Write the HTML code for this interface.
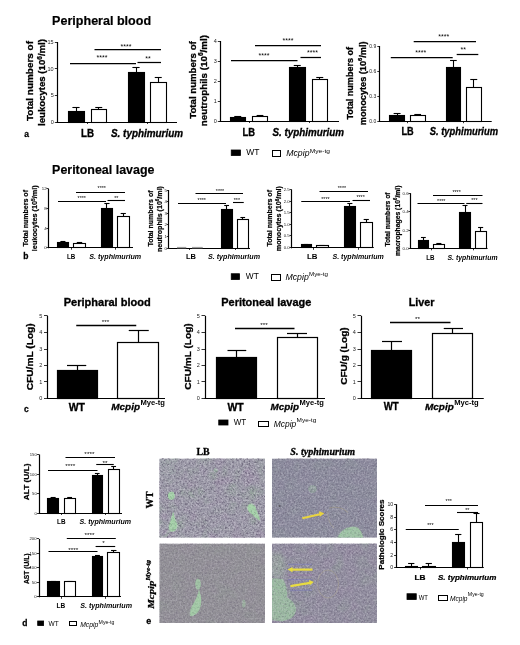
<!DOCTYPE html>
<html><head><meta charset="utf-8"><title>Figure</title>
<style>html,body{margin:0;padding:0;background:#fff;overflow:hidden;}svg{display:block;}</style>
</head><body>
<svg width="520" height="645" viewBox="0 0 520 645">
<rect width="520" height="645" fill="#fff"/>
<text x="52.10" y="25.20" font-size="13.2" font-weight="bold" font-style="normal" text-anchor="start" font-family="'Liberation Sans', Arial, sans-serif" fill="#000" textLength="99.00" lengthAdjust="spacingAndGlyphs" stroke="#000" stroke-width="0.20">Peripheral blood</text>
<text x="24.20" y="137.20" font-size="8.5" font-weight="bold" font-style="normal" text-anchor="start" font-family="'Liberation Sans', Arial, sans-serif" fill="#000" stroke="#000" stroke-width="0.26">a</text>
<line x1="57.50" y1="42.00" x2="57.50" y2="122.50" stroke="#000" stroke-width="1.2"/>
<line x1="56.50" y1="122.50" x2="177.00" y2="122.50" stroke="#000" stroke-width="1.2"/>
<line x1="54.80" y1="42.50" x2="57.00" y2="42.50" stroke="#000" stroke-width="0.8"/>
<text x="53.70" y="43.98" font-size="5.5" font-weight="normal" font-style="normal" text-anchor="end" font-family="'Liberation Sans', Arial, sans-serif" fill="#222">15</text>
<line x1="54.80" y1="68.50" x2="57.00" y2="68.50" stroke="#000" stroke-width="0.8"/>
<text x="53.70" y="70.73" font-size="5.5" font-weight="normal" font-style="normal" text-anchor="end" font-family="'Liberation Sans', Arial, sans-serif" fill="#222">10</text>
<line x1="54.80" y1="95.50" x2="57.00" y2="95.50" stroke="#000" stroke-width="0.8"/>
<text x="53.70" y="97.48" font-size="5.5" font-weight="normal" font-style="normal" text-anchor="end" font-family="'Liberation Sans', Arial, sans-serif" fill="#222">5</text>
<line x1="54.80" y1="122.50" x2="57.00" y2="122.50" stroke="#000" stroke-width="0.8"/>
<text x="53.70" y="123.98" font-size="5.5" font-weight="normal" font-style="normal" text-anchor="end" font-family="'Liberation Sans', Arial, sans-serif" fill="#222">0</text>
<line x1="87.50" y1="122.00" x2="87.50" y2="124.00" stroke="#000" stroke-width="0.8"/>
<line x1="147.50" y1="122.00" x2="147.50" y2="124.00" stroke="#000" stroke-width="0.8"/>
<line x1="76.50" y1="107.00" x2="76.50" y2="111.50" stroke="#000" stroke-width="1.1"/>
<line x1="72.40" y1="107.50" x2="79.60" y2="107.50" stroke="#000" stroke-width="1.1"/>
<rect x="68.50" y="111.50" width="16.00" height="11.00" fill="#000" stroke="#000" stroke-width="1.1"/>
<line x1="98.50" y1="107.50" x2="98.50" y2="109.50" stroke="#000" stroke-width="1.1"/>
<line x1="95.26" y1="107.50" x2="102.24" y2="107.50" stroke="#000" stroke-width="1.1"/>
<rect x="91.50" y="109.50" width="15.00" height="13.00" fill="#fff" stroke="#000" stroke-width="1.1"/>
<line x1="136.50" y1="67.50" x2="136.50" y2="72.00" stroke="#000" stroke-width="1.1"/>
<line x1="132.40" y1="67.50" x2="139.60" y2="67.50" stroke="#000" stroke-width="1.1"/>
<rect x="128.50" y="72.50" width="16.00" height="50.00" fill="#000" stroke="#000" stroke-width="1.1"/>
<line x1="158.50" y1="77.50" x2="158.50" y2="82.00" stroke="#000" stroke-width="1.1"/>
<line x1="154.76" y1="77.50" x2="161.74" y2="77.50" stroke="#000" stroke-width="1.1"/>
<rect x="150.50" y="82.50" width="16.00" height="40.00" fill="#fff" stroke="#000" stroke-width="1.1"/>
<line x1="70.00" y1="63.50" x2="136.00" y2="63.50" stroke="#000" stroke-width="1.25"/>
<text x="102.00" y="59.58" font-size="6.5" font-weight="normal" font-style="normal" text-anchor="middle" font-family="'Liberation Sans', Arial, sans-serif" fill="#000" textLength="10.92" lengthAdjust="spacingAndGlyphs">****</text>
<line x1="94.50" y1="49.50" x2="161.00" y2="49.50" stroke="#000" stroke-width="1.25"/>
<text x="126.00" y="48.58" font-size="6.5" font-weight="normal" font-style="normal" text-anchor="middle" font-family="'Liberation Sans', Arial, sans-serif" fill="#000" textLength="10.92" lengthAdjust="spacingAndGlyphs">****</text>
<line x1="137.50" y1="62.50" x2="161.00" y2="62.50" stroke="#000" stroke-width="1.25"/>
<text x="148.00" y="60.58" font-size="6.5" font-weight="normal" font-style="normal" text-anchor="middle" font-family="'Liberation Sans', Arial, sans-serif" fill="#000" textLength="5.46" lengthAdjust="spacingAndGlyphs">**</text>
<text x="81.00" y="137.00" font-size="10" font-weight="bold" font-style="normal" text-anchor="start" font-family="'Liberation Sans', Arial, sans-serif" fill="#000" textLength="13.00" lengthAdjust="spacingAndGlyphs" stroke="#000" stroke-width="0.30">LB</text>
<text x="111.00" y="137.00" font-size="10" font-weight="bold" font-style="italic" text-anchor="start" font-family="'Liberation Sans', Arial, sans-serif" fill="#000" textLength="72.00" lengthAdjust="spacingAndGlyphs" stroke="#000" stroke-width="0.30">S. typhimurium</text>
<text stroke="#000" stroke-width="0.29" transform="translate(32.60,121.00) rotate(-90)" x="0" y="0" font-size="9.6" font-weight="bold" font-style="normal" font-family="'Liberation Sans', Arial, sans-serif" fill="#000" textLength="80.00" lengthAdjust="spacingAndGlyphs">Total numbers of</text>
<text stroke="#000" stroke-width="0.29" transform="translate(45.00,126.00) rotate(-90)" x="0" y="0" font-size="9.6" font-weight="bold" font-style="normal" font-family="'Liberation Sans', Arial, sans-serif" fill="#000" textLength="87.00" lengthAdjust="spacingAndGlyphs">leukocytes (10<tspan font-size="6.5" dy="-3.5">6</tspan><tspan dy="3.5">/ml)</tspan></text>
<line x1="220.50" y1="41.00" x2="220.50" y2="121.50" stroke="#000" stroke-width="1.2"/>
<line x1="219.50" y1="121.50" x2="339.00" y2="121.50" stroke="#000" stroke-width="1.2"/>
<line x1="217.80" y1="41.50" x2="220.00" y2="41.50" stroke="#000" stroke-width="0.8"/>
<text x="216.70" y="42.98" font-size="5.5" font-weight="normal" font-style="normal" text-anchor="end" font-family="'Liberation Sans', Arial, sans-serif" fill="#222">4</text>
<line x1="217.80" y1="61.50" x2="220.00" y2="61.50" stroke="#000" stroke-width="0.8"/>
<text x="216.70" y="62.98" font-size="5.5" font-weight="normal" font-style="normal" text-anchor="end" font-family="'Liberation Sans', Arial, sans-serif" fill="#222">3</text>
<line x1="217.80" y1="81.50" x2="220.00" y2="81.50" stroke="#000" stroke-width="0.8"/>
<text x="216.70" y="82.98" font-size="5.5" font-weight="normal" font-style="normal" text-anchor="end" font-family="'Liberation Sans', Arial, sans-serif" fill="#222">2</text>
<line x1="217.80" y1="101.50" x2="220.00" y2="101.50" stroke="#000" stroke-width="0.8"/>
<text x="216.70" y="102.98" font-size="5.5" font-weight="normal" font-style="normal" text-anchor="end" font-family="'Liberation Sans', Arial, sans-serif" fill="#222">1</text>
<line x1="217.80" y1="121.50" x2="220.00" y2="121.50" stroke="#000" stroke-width="0.8"/>
<text x="216.70" y="122.98" font-size="5.5" font-weight="normal" font-style="normal" text-anchor="end" font-family="'Liberation Sans', Arial, sans-serif" fill="#222">0</text>
<line x1="249.50" y1="121.00" x2="249.50" y2="123.00" stroke="#000" stroke-width="0.8"/>
<line x1="309.50" y1="121.00" x2="309.50" y2="123.00" stroke="#000" stroke-width="0.8"/>
<line x1="237.50" y1="116.00" x2="237.50" y2="117.00" stroke="#000" stroke-width="1.1"/>
<line x1="234.26" y1="116.50" x2="241.24" y2="116.50" stroke="#000" stroke-width="1.1"/>
<rect x="230.50" y="117.50" width="15.00" height="4.00" fill="#000" stroke="#000" stroke-width="1.1"/>
<line x1="260.50" y1="115.00" x2="260.50" y2="116.00" stroke="#000" stroke-width="1.1"/>
<line x1="256.62" y1="115.50" x2="263.38" y2="115.50" stroke="#000" stroke-width="1.1"/>
<rect x="252.50" y="116.50" width="15.00" height="5.00" fill="#fff" stroke="#000" stroke-width="1.1"/>
<line x1="297.50" y1="65.00" x2="297.50" y2="67.50" stroke="#000" stroke-width="1.1"/>
<line x1="293.76" y1="65.50" x2="300.74" y2="65.50" stroke="#000" stroke-width="1.1"/>
<rect x="289.50" y="67.50" width="16.00" height="54.00" fill="#000" stroke="#000" stroke-width="1.1"/>
<line x1="319.50" y1="77.00" x2="319.50" y2="79.00" stroke="#000" stroke-width="1.1"/>
<line x1="316.26" y1="77.50" x2="323.24" y2="77.50" stroke="#000" stroke-width="1.1"/>
<rect x="312.50" y="79.50" width="15.00" height="42.00" fill="#fff" stroke="#000" stroke-width="1.1"/>
<line x1="231.00" y1="60.50" x2="297.50" y2="60.50" stroke="#000" stroke-width="1.25"/>
<text x="264.00" y="57.58" font-size="6.5" font-weight="normal" font-style="normal" text-anchor="middle" font-family="'Liberation Sans', Arial, sans-serif" fill="#000" textLength="10.92" lengthAdjust="spacingAndGlyphs">****</text>
<line x1="255.00" y1="45.50" x2="321.00" y2="45.50" stroke="#000" stroke-width="1.25"/>
<text x="288.00" y="42.58" font-size="6.5" font-weight="normal" font-style="normal" text-anchor="middle" font-family="'Liberation Sans', Arial, sans-serif" fill="#000" textLength="10.92" lengthAdjust="spacingAndGlyphs">****</text>
<line x1="300.50" y1="57.50" x2="321.00" y2="57.50" stroke="#000" stroke-width="1.25"/>
<text x="312.50" y="54.58" font-size="6.5" font-weight="normal" font-style="normal" text-anchor="middle" font-family="'Liberation Sans', Arial, sans-serif" fill="#000" textLength="10.92" lengthAdjust="spacingAndGlyphs">****</text>
<text x="242.50" y="135.50" font-size="10" font-weight="bold" font-style="normal" text-anchor="start" font-family="'Liberation Sans', Arial, sans-serif" fill="#000" textLength="12.50" lengthAdjust="spacingAndGlyphs" stroke="#000" stroke-width="0.30">LB</text>
<text x="272.50" y="136.00" font-size="10" font-weight="bold" font-style="italic" text-anchor="start" font-family="'Liberation Sans', Arial, sans-serif" fill="#000" textLength="71.50" lengthAdjust="spacingAndGlyphs" stroke="#000" stroke-width="0.30">S. typhimurium</text>
<text stroke="#000" stroke-width="0.29" transform="translate(196.40,118.75) rotate(-90)" x="0" y="0" font-size="9.6" font-weight="bold" font-style="normal" font-family="'Liberation Sans', Arial, sans-serif" fill="#000" textLength="77.50" lengthAdjust="spacingAndGlyphs">Total numbers of</text>
<text stroke="#000" stroke-width="0.29" transform="translate(206.50,126.25) rotate(-90)" x="0" y="0" font-size="9.6" font-weight="bold" font-style="normal" font-family="'Liberation Sans', Arial, sans-serif" fill="#000" textLength="91.25" lengthAdjust="spacingAndGlyphs">neutrophils (10<tspan font-size="6.5" dy="-3.5">6</tspan><tspan dy="3.5">/ml)</tspan></text>
<line x1="379.50" y1="46.00" x2="379.50" y2="121.70" stroke="#000" stroke-width="1.2"/>
<line x1="379.00" y1="121.50" x2="491.70" y2="121.50" stroke="#000" stroke-width="1.2"/>
<line x1="377.30" y1="46.50" x2="379.50" y2="46.50" stroke="#000" stroke-width="0.8"/>
<text x="376.20" y="47.80" font-size="5" font-weight="normal" font-style="normal" text-anchor="end" font-family="'Liberation Sans', Arial, sans-serif" fill="#222">0.9</text>
<line x1="377.30" y1="71.50" x2="379.50" y2="71.50" stroke="#000" stroke-width="0.8"/>
<text x="376.20" y="73.00" font-size="5" font-weight="normal" font-style="normal" text-anchor="end" font-family="'Liberation Sans', Arial, sans-serif" fill="#222">0.6</text>
<line x1="377.30" y1="96.50" x2="379.50" y2="96.50" stroke="#000" stroke-width="0.8"/>
<text x="376.20" y="98.10" font-size="5" font-weight="normal" font-style="normal" text-anchor="end" font-family="'Liberation Sans', Arial, sans-serif" fill="#222">0.3</text>
<line x1="377.30" y1="121.50" x2="379.50" y2="121.50" stroke="#000" stroke-width="0.8"/>
<text x="376.20" y="123.20" font-size="5" font-weight="normal" font-style="normal" text-anchor="end" font-family="'Liberation Sans', Arial, sans-serif" fill="#222">0.0</text>
<line x1="407.50" y1="121.20" x2="407.50" y2="123.20" stroke="#000" stroke-width="0.8"/>
<line x1="463.50" y1="121.20" x2="463.50" y2="123.20" stroke="#000" stroke-width="0.8"/>
<line x1="397.50" y1="113.40" x2="397.50" y2="115.60" stroke="#000" stroke-width="1.1"/>
<line x1="393.63" y1="113.50" x2="400.57" y2="113.50" stroke="#000" stroke-width="1.1"/>
<rect x="389.50" y="115.50" width="15.00" height="6.00" fill="#000" stroke="#000" stroke-width="1.1"/>
<line x1="417.50" y1="114.00" x2="417.50" y2="115.00" stroke="#000" stroke-width="1.1"/>
<line x1="414.32" y1="114.50" x2="421.07" y2="114.50" stroke="#000" stroke-width="1.1"/>
<rect x="410.50" y="115.50" width="15.00" height="6.00" fill="#fff" stroke="#000" stroke-width="1.1"/>
<line x1="453.50" y1="60.40" x2="453.50" y2="67.40" stroke="#000" stroke-width="1.1"/>
<line x1="450.07" y1="60.50" x2="456.73" y2="60.50" stroke="#000" stroke-width="1.1"/>
<rect x="446.50" y="67.50" width="14.00" height="54.00" fill="#000" stroke="#000" stroke-width="1.1"/>
<line x1="473.50" y1="79.20" x2="473.50" y2="87.30" stroke="#000" stroke-width="1.1"/>
<line x1="470.26" y1="79.50" x2="477.24" y2="79.50" stroke="#000" stroke-width="1.1"/>
<rect x="466.50" y="87.50" width="15.00" height="34.00" fill="#fff" stroke="#000" stroke-width="1.1"/>
<line x1="390.80" y1="57.50" x2="452.70" y2="57.50" stroke="#000" stroke-width="1.25"/>
<text x="420.80" y="54.58" font-size="6.5" font-weight="normal" font-style="normal" text-anchor="middle" font-family="'Liberation Sans', Arial, sans-serif" fill="#000" textLength="10.92" lengthAdjust="spacingAndGlyphs">****</text>
<line x1="413.70" y1="41.50" x2="476.00" y2="41.50" stroke="#000" stroke-width="1.25"/>
<text x="443.70" y="39.18" font-size="6.5" font-weight="normal" font-style="normal" text-anchor="middle" font-family="'Liberation Sans', Arial, sans-serif" fill="#000" textLength="10.92" lengthAdjust="spacingAndGlyphs">****</text>
<line x1="456.70" y1="54.50" x2="478.30" y2="54.50" stroke="#000" stroke-width="1.25"/>
<text x="463.20" y="51.88" font-size="6.5" font-weight="normal" font-style="normal" text-anchor="middle" font-family="'Liberation Sans', Arial, sans-serif" fill="#000" textLength="5.46" lengthAdjust="spacingAndGlyphs">**</text>
<text x="401.50" y="135.20" font-size="10" font-weight="bold" font-style="normal" text-anchor="start" font-family="'Liberation Sans', Arial, sans-serif" fill="#000" textLength="12.20" lengthAdjust="spacingAndGlyphs" stroke="#000" stroke-width="0.30">LB</text>
<text x="429.80" y="135.00" font-size="10" font-weight="bold" font-style="italic" text-anchor="start" font-family="'Liberation Sans', Arial, sans-serif" fill="#000" textLength="68.20" lengthAdjust="spacingAndGlyphs" stroke="#000" stroke-width="0.30">S. typhimurium</text>
<text stroke="#000" stroke-width="0.29" transform="translate(353.20,119.60) rotate(-90)" x="0" y="0" font-size="9.6" font-weight="bold" font-style="normal" font-family="'Liberation Sans', Arial, sans-serif" fill="#000" textLength="72.60" lengthAdjust="spacingAndGlyphs">Total numbers of</text>
<text stroke="#000" stroke-width="0.29" transform="translate(365.50,125.20) rotate(-90)" x="0" y="0" font-size="9.6" font-weight="bold" font-style="normal" font-family="'Liberation Sans', Arial, sans-serif" fill="#000" textLength="83.80" lengthAdjust="spacingAndGlyphs">monocytes (10<tspan font-size="6" dy="-3.5">6</tspan><tspan dy="3.5">/ml)</tspan></text>
<rect x="231.25" y="150.00" width="9.25" height="5.50" fill="#000" stroke="#000" stroke-width="0.8"/>
<text x="246.25" y="155.00" font-size="9" font-weight="normal" font-style="normal" text-anchor="start" font-family="'Liberation Sans', Arial, sans-serif" fill="#000" textLength="13.25" lengthAdjust="spacingAndGlyphs">WT</text>
<rect x="272.50" y="150.50" width="8.00" height="6.00" fill="#fff" stroke="#000" stroke-width="1"/>
<text x="286.25" y="156.25" font-size="9" font-weight="normal" font-style="italic" text-anchor="start" font-family="'Liberation Sans', Arial, sans-serif" fill="#000" textLength="23.25" lengthAdjust="spacingAndGlyphs">Mcpip</text>
<text x="309.80" y="152.50" font-size="6" font-weight="normal" font-style="normal" text-anchor="start" font-family="'Liberation Sans', Arial, sans-serif" fill="#000" textLength="20.20" lengthAdjust="spacingAndGlyphs">Mye-tg</text>
<text x="52.10" y="174.40" font-size="12.5" font-weight="bold" font-style="normal" text-anchor="start" font-family="'Liberation Sans', Arial, sans-serif" fill="#000" textLength="102.30" lengthAdjust="spacingAndGlyphs" stroke="#000" stroke-width="0.19">Peritoneal lavage</text>
<text x="23.20" y="259.00" font-size="8.5" font-weight="bold" font-style="normal" text-anchor="start" font-family="'Liberation Sans', Arial, sans-serif" fill="#000" stroke="#000" stroke-width="0.26">b</text>
<line x1="48.50" y1="188.75" x2="48.50" y2="248.20" stroke="#000" stroke-width="1.2"/>
<line x1="48.10" y1="247.50" x2="133.00" y2="247.50" stroke="#000" stroke-width="1.2"/>
<line x1="46.40" y1="188.50" x2="48.60" y2="188.50" stroke="#000" stroke-width="0.8"/>
<text x="46.60" y="190.30" font-size="4.3" font-weight="normal" font-style="normal" text-anchor="end" font-family="'Liberation Sans', Arial, sans-serif" fill="#222">12</text>
<line x1="46.40" y1="208.50" x2="48.60" y2="208.50" stroke="#000" stroke-width="0.8"/>
<text x="46.60" y="210.30" font-size="4.3" font-weight="normal" font-style="normal" text-anchor="end" font-family="'Liberation Sans', Arial, sans-serif" fill="#222">8</text>
<line x1="46.40" y1="228.50" x2="48.60" y2="228.50" stroke="#000" stroke-width="0.8"/>
<text x="46.60" y="230.05" font-size="4.3" font-weight="normal" font-style="normal" text-anchor="end" font-family="'Liberation Sans', Arial, sans-serif" fill="#222">4</text>
<line x1="46.40" y1="247.50" x2="48.60" y2="247.50" stroke="#000" stroke-width="0.8"/>
<text x="46.60" y="249.25" font-size="4.3" font-weight="normal" font-style="normal" text-anchor="end" font-family="'Liberation Sans', Arial, sans-serif" fill="#222">0</text>
<line x1="71.50" y1="247.70" x2="71.50" y2="249.70" stroke="#000" stroke-width="0.8"/>
<line x1="115.50" y1="247.70" x2="115.50" y2="249.70" stroke="#000" stroke-width="0.8"/>
<line x1="62.50" y1="241.00" x2="62.50" y2="242.00" stroke="#000" stroke-width="1.1"/>
<line x1="60.38" y1="241.50" x2="65.42" y2="241.50" stroke="#000" stroke-width="1.1"/>
<rect x="57.50" y="242.50" width="11.00" height="5.00" fill="#000" stroke="#000" stroke-width="1.1"/>
<line x1="79.50" y1="242.50" x2="79.50" y2="243.00" stroke="#000" stroke-width="1.1"/>
<line x1="76.80" y1="242.50" x2="82.20" y2="242.50" stroke="#000" stroke-width="1.1"/>
<rect x="73.50" y="243.50" width="12.00" height="4.00" fill="#fff" stroke="#000" stroke-width="1.1"/>
<line x1="106.50" y1="203.75" x2="106.50" y2="208.00" stroke="#000" stroke-width="1.1"/>
<line x1="104.36" y1="203.50" x2="109.54" y2="203.50" stroke="#000" stroke-width="1.1"/>
<rect x="101.50" y="208.50" width="11.00" height="39.00" fill="#000" stroke="#000" stroke-width="1.1"/>
<line x1="123.50" y1="213.20" x2="123.50" y2="216.30" stroke="#000" stroke-width="1.1"/>
<line x1="120.66" y1="213.50" x2="125.84" y2="213.50" stroke="#000" stroke-width="1.1"/>
<rect x="117.50" y="216.50" width="12.00" height="31.00" fill="#fff" stroke="#000" stroke-width="1.1"/>
<line x1="58.00" y1="201.50" x2="106.00" y2="201.50" stroke="#000" stroke-width="1.1"/>
<text x="81.75" y="199.75" font-size="5" font-weight="normal" font-style="normal" text-anchor="middle" font-family="'Liberation Sans', Arial, sans-serif" fill="#000" textLength="8.40" lengthAdjust="spacingAndGlyphs">****</text>
<line x1="76.00" y1="192.50" x2="125.00" y2="192.50" stroke="#000" stroke-width="1.1"/>
<text x="101.75" y="189.50" font-size="5" font-weight="normal" font-style="normal" text-anchor="middle" font-family="'Liberation Sans', Arial, sans-serif" fill="#000" textLength="8.40" lengthAdjust="spacingAndGlyphs">****</text>
<line x1="107.50" y1="200.50" x2="125.00" y2="200.50" stroke="#000" stroke-width="1.1"/>
<text x="116.25" y="199.75" font-size="5" font-weight="normal" font-style="normal" text-anchor="middle" font-family="'Liberation Sans', Arial, sans-serif" fill="#000" textLength="4.20" lengthAdjust="spacingAndGlyphs">**</text>
<text x="66.90" y="259.20" font-size="7" font-weight="bold" font-style="normal" text-anchor="start" font-family="'Liberation Sans', Arial, sans-serif" fill="#000" textLength="8.30" lengthAdjust="spacingAndGlyphs">LB</text>
<text x="89.20" y="259.00" font-size="7" font-weight="bold" font-style="italic" text-anchor="start" font-family="'Liberation Sans', Arial, sans-serif" fill="#000" textLength="52.00" lengthAdjust="spacingAndGlyphs">S. typhimurium</text>
<text stroke="#000" stroke-width="0.21" transform="translate(28.30,246.60) rotate(-90)" x="0" y="0" font-size="7" font-weight="bold" font-style="normal" font-family="'Liberation Sans', Arial, sans-serif" fill="#000" textLength="56.60" lengthAdjust="spacingAndGlyphs">Total numbers of</text>
<text stroke="#000" stroke-width="0.21" transform="translate(37.30,251.20) rotate(-90)" x="0" y="0" font-size="7" font-weight="bold" font-style="normal" font-family="'Liberation Sans', Arial, sans-serif" fill="#000" textLength="65.90" lengthAdjust="spacingAndGlyphs">leukocytes (10<tspan font-size="4.5" dy="-2.5">5</tspan><tspan dy="2.5">/ml)</tspan></text>
<line x1="168.50" y1="190.00" x2="168.50" y2="248.50" stroke="#000" stroke-width="1.2"/>
<line x1="168.40" y1="248.50" x2="250.00" y2="248.50" stroke="#000" stroke-width="1.2"/>
<line x1="166.70" y1="190.50" x2="168.90" y2="190.50" stroke="#000" stroke-width="0.8"/>
<text x="166.90" y="191.55" font-size="4.3" font-weight="normal" font-style="normal" text-anchor="end" font-family="'Liberation Sans', Arial, sans-serif" fill="#222">5</text>
<line x1="166.70" y1="201.50" x2="168.90" y2="201.50" stroke="#000" stroke-width="0.8"/>
<text x="166.90" y="203.15" font-size="4.3" font-weight="normal" font-style="normal" text-anchor="end" font-family="'Liberation Sans', Arial, sans-serif" fill="#222">4</text>
<line x1="166.70" y1="213.50" x2="168.90" y2="213.50" stroke="#000" stroke-width="0.8"/>
<text x="166.90" y="214.75" font-size="4.3" font-weight="normal" font-style="normal" text-anchor="end" font-family="'Liberation Sans', Arial, sans-serif" fill="#222">3</text>
<line x1="166.70" y1="224.50" x2="168.90" y2="224.50" stroke="#000" stroke-width="0.8"/>
<text x="166.90" y="226.35" font-size="4.3" font-weight="normal" font-style="normal" text-anchor="end" font-family="'Liberation Sans', Arial, sans-serif" fill="#222">2</text>
<line x1="166.70" y1="236.50" x2="168.90" y2="236.50" stroke="#000" stroke-width="0.8"/>
<text x="166.90" y="237.95" font-size="4.3" font-weight="normal" font-style="normal" text-anchor="end" font-family="'Liberation Sans', Arial, sans-serif" fill="#222">1</text>
<line x1="166.70" y1="248.50" x2="168.90" y2="248.50" stroke="#000" stroke-width="0.8"/>
<text x="166.90" y="249.55" font-size="4.3" font-weight="normal" font-style="normal" text-anchor="end" font-family="'Liberation Sans', Arial, sans-serif" fill="#222">0</text>
<line x1="189.50" y1="248.00" x2="189.50" y2="250.00" stroke="#000" stroke-width="0.8"/>
<line x1="235.50" y1="248.00" x2="235.50" y2="250.00" stroke="#000" stroke-width="0.8"/>
<rect x="177.50" y="247.20" width="8.50" height="0.80" fill="#999" stroke="#999" stroke-width="0.6"/>
<rect x="192.50" y="247.20" width="10.00" height="0.80" fill="#999" stroke="#999" stroke-width="0.6"/>
<line x1="226.50" y1="205.00" x2="226.50" y2="209.25" stroke="#000" stroke-width="1.1"/>
<line x1="224.21" y1="205.50" x2="229.04" y2="205.50" stroke="#000" stroke-width="1.1"/>
<rect x="221.50" y="209.50" width="11.00" height="39.00" fill="#000" stroke="#000" stroke-width="1.1"/>
<line x1="242.50" y1="217.50" x2="242.50" y2="219.25" stroke="#000" stroke-width="1.1"/>
<line x1="240.39" y1="217.50" x2="245.11" y2="217.50" stroke="#000" stroke-width="1.1"/>
<rect x="237.50" y="219.50" width="11.00" height="29.00" fill="#fff" stroke="#000" stroke-width="1.1"/>
<line x1="178.00" y1="203.50" x2="226.00" y2="203.50" stroke="#000" stroke-width="1.1"/>
<text x="201.75" y="201.50" font-size="5" font-weight="normal" font-style="normal" text-anchor="middle" font-family="'Liberation Sans', Arial, sans-serif" fill="#000" textLength="8.40" lengthAdjust="spacingAndGlyphs">****</text>
<line x1="195.50" y1="193.50" x2="243.00" y2="193.50" stroke="#000" stroke-width="1.1"/>
<text x="220.00" y="192.75" font-size="5" font-weight="normal" font-style="normal" text-anchor="middle" font-family="'Liberation Sans', Arial, sans-serif" fill="#000" textLength="8.40" lengthAdjust="spacingAndGlyphs">****</text>
<line x1="233.00" y1="202.50" x2="243.75" y2="202.50" stroke="#000" stroke-width="1.1"/>
<text x="236.90" y="201.50" font-size="5" font-weight="normal" font-style="normal" text-anchor="middle" font-family="'Liberation Sans', Arial, sans-serif" fill="#000" textLength="6.30" lengthAdjust="spacingAndGlyphs">***</text>
<text x="186.00" y="258.75" font-size="7" font-weight="bold" font-style="normal" text-anchor="start" font-family="'Liberation Sans', Arial, sans-serif" fill="#000" textLength="10.00" lengthAdjust="spacingAndGlyphs">LB</text>
<text x="208.00" y="259.00" font-size="7" font-weight="bold" font-style="italic" text-anchor="start" font-family="'Liberation Sans', Arial, sans-serif" fill="#000" textLength="52.00" lengthAdjust="spacingAndGlyphs">S. typhimurium</text>
<text stroke="#000" stroke-width="0.21" transform="translate(153.00,246.60) rotate(-90)" x="0" y="0" font-size="7" font-weight="bold" font-style="normal" font-family="'Liberation Sans', Arial, sans-serif" fill="#000" textLength="56.10" lengthAdjust="spacingAndGlyphs">Total numbers of</text>
<text stroke="#000" stroke-width="0.21" transform="translate(161.50,252.00) rotate(-90)" x="0" y="0" font-size="7" font-weight="bold" font-style="normal" font-family="'Liberation Sans', Arial, sans-serif" fill="#000" textLength="66.00" lengthAdjust="spacingAndGlyphs">neutrophils (10<tspan font-size="4.5" dy="-2.5">6</tspan><tspan dy="2.5">/ml)</tspan></text>
<line x1="291.50" y1="189.50" x2="291.50" y2="248.30" stroke="#000" stroke-width="1.2"/>
<line x1="291.20" y1="247.50" x2="373.75" y2="247.50" stroke="#000" stroke-width="1.2"/>
<line x1="289.50" y1="189.50" x2="291.70" y2="189.50" stroke="#000" stroke-width="0.8"/>
<text x="289.70" y="191.05" font-size="4.3" font-weight="normal" font-style="normal" text-anchor="end" font-family="'Liberation Sans', Arial, sans-serif" fill="#222">2.5</text>
<line x1="289.50" y1="201.50" x2="291.70" y2="201.50" stroke="#000" stroke-width="0.8"/>
<text x="289.70" y="202.55" font-size="4.3" font-weight="normal" font-style="normal" text-anchor="end" font-family="'Liberation Sans', Arial, sans-serif" fill="#222">2.0</text>
<line x1="289.50" y1="212.50" x2="291.70" y2="212.50" stroke="#000" stroke-width="0.8"/>
<text x="289.70" y="214.05" font-size="4.3" font-weight="normal" font-style="normal" text-anchor="end" font-family="'Liberation Sans', Arial, sans-serif" fill="#222">1.5</text>
<line x1="289.50" y1="224.50" x2="291.70" y2="224.50" stroke="#000" stroke-width="0.8"/>
<text x="289.70" y="225.55" font-size="4.3" font-weight="normal" font-style="normal" text-anchor="end" font-family="'Liberation Sans', Arial, sans-serif" fill="#222">1.0</text>
<line x1="289.50" y1="235.50" x2="291.70" y2="235.50" stroke="#000" stroke-width="0.8"/>
<text x="289.70" y="237.30" font-size="4.3" font-weight="normal" font-style="normal" text-anchor="end" font-family="'Liberation Sans', Arial, sans-serif" fill="#222">0.5</text>
<line x1="289.50" y1="247.50" x2="291.70" y2="247.50" stroke="#000" stroke-width="0.8"/>
<text x="289.70" y="249.05" font-size="4.3" font-weight="normal" font-style="normal" text-anchor="end" font-family="'Liberation Sans', Arial, sans-serif" fill="#222">0.0</text>
<line x1="313.50" y1="247.80" x2="313.50" y2="249.80" stroke="#000" stroke-width="0.8"/>
<line x1="358.50" y1="247.80" x2="358.50" y2="249.80" stroke="#000" stroke-width="0.8"/>
<line x1="306.50" y1="244.00" x2="306.50" y2="244.50" stroke="#000" stroke-width="1.1"/>
<line x1="303.82" y1="244.50" x2="308.43" y2="244.50" stroke="#000" stroke-width="1.1"/>
<rect x="301.50" y="244.50" width="10.00" height="3.00" fill="#000" stroke="#000" stroke-width="1.1"/>
<line x1="322.50" y1="245.00" x2="322.50" y2="245.75" stroke="#000" stroke-width="1.1"/>
<line x1="319.30" y1="245.50" x2="324.70" y2="245.50" stroke="#000" stroke-width="1.1"/>
<rect x="316.50" y="245.50" width="12.00" height="2.00" fill="#fff" stroke="#000" stroke-width="1.1"/>
<line x1="349.50" y1="203.75" x2="349.50" y2="206.25" stroke="#000" stroke-width="1.1"/>
<line x1="347.34" y1="203.50" x2="352.41" y2="203.50" stroke="#000" stroke-width="1.1"/>
<rect x="344.50" y="206.50" width="11.00" height="41.00" fill="#000" stroke="#000" stroke-width="1.1"/>
<line x1="366.50" y1="219.25" x2="366.50" y2="222.00" stroke="#000" stroke-width="1.1"/>
<line x1="363.66" y1="219.50" x2="368.84" y2="219.50" stroke="#000" stroke-width="1.1"/>
<rect x="360.50" y="222.50" width="12.00" height="25.00" fill="#fff" stroke="#000" stroke-width="1.1"/>
<line x1="301.25" y1="201.50" x2="350.00" y2="201.50" stroke="#000" stroke-width="1.1"/>
<text x="325.40" y="200.75" font-size="5" font-weight="normal" font-style="normal" text-anchor="middle" font-family="'Liberation Sans', Arial, sans-serif" fill="#000" textLength="8.40" lengthAdjust="spacingAndGlyphs">****</text>
<line x1="319.50" y1="191.50" x2="368.00" y2="191.50" stroke="#000" stroke-width="1.1"/>
<text x="341.90" y="189.75" font-size="5" font-weight="normal" font-style="normal" text-anchor="middle" font-family="'Liberation Sans', Arial, sans-serif" fill="#000" textLength="8.40" lengthAdjust="spacingAndGlyphs">****</text>
<line x1="352.50" y1="200.50" x2="370.00" y2="200.50" stroke="#000" stroke-width="1.1"/>
<text x="360.60" y="199.00" font-size="5" font-weight="normal" font-style="normal" text-anchor="middle" font-family="'Liberation Sans', Arial, sans-serif" fill="#000" textLength="8.40" lengthAdjust="spacingAndGlyphs">****</text>
<text x="307.00" y="258.50" font-size="7" font-weight="bold" font-style="normal" text-anchor="start" font-family="'Liberation Sans', Arial, sans-serif" fill="#000" textLength="10.50" lengthAdjust="spacingAndGlyphs">LB</text>
<text x="332.50" y="258.50" font-size="7" font-weight="bold" font-style="italic" text-anchor="start" font-family="'Liberation Sans', Arial, sans-serif" fill="#000" textLength="51.25" lengthAdjust="spacingAndGlyphs">S. typhimurium</text>
<text stroke="#000" stroke-width="0.21" transform="translate(272.30,246.60) rotate(-90)" x="0" y="0" font-size="7" font-weight="bold" font-style="normal" font-family="'Liberation Sans', Arial, sans-serif" fill="#000" textLength="56.60" lengthAdjust="spacingAndGlyphs">Total numbers of</text>
<text stroke="#000" stroke-width="0.21" transform="translate(281.00,251.20) rotate(-90)" x="0" y="0" font-size="7" font-weight="bold" font-style="normal" font-family="'Liberation Sans', Arial, sans-serif" fill="#000" textLength="65.20" lengthAdjust="spacingAndGlyphs">monocytes (10<tspan font-size="4.5" dy="-2.5">6</tspan><tspan dy="2.5">/ml)</tspan></text>
<line x1="410.50" y1="193.20" x2="410.50" y2="248.80" stroke="#000" stroke-width="1.2"/>
<line x1="410.10" y1="248.50" x2="487.50" y2="248.50" stroke="#000" stroke-width="1.2"/>
<line x1="408.40" y1="193.50" x2="410.60" y2="193.50" stroke="#000" stroke-width="0.8"/>
<text x="408.60" y="194.75" font-size="4.3" font-weight="normal" font-style="normal" text-anchor="end" font-family="'Liberation Sans', Arial, sans-serif" fill="#222">0.6</text>
<line x1="408.40" y1="211.50" x2="410.60" y2="211.50" stroke="#000" stroke-width="0.8"/>
<text x="408.60" y="213.30" font-size="4.3" font-weight="normal" font-style="normal" text-anchor="end" font-family="'Liberation Sans', Arial, sans-serif" fill="#222">0.4</text>
<line x1="408.40" y1="230.50" x2="410.60" y2="230.50" stroke="#000" stroke-width="0.8"/>
<text x="408.60" y="231.55" font-size="4.3" font-weight="normal" font-style="normal" text-anchor="end" font-family="'Liberation Sans', Arial, sans-serif" fill="#222">0.2</text>
<line x1="408.40" y1="248.50" x2="410.60" y2="248.50" stroke="#000" stroke-width="0.8"/>
<text x="408.60" y="249.55" font-size="4.3" font-weight="normal" font-style="normal" text-anchor="end" font-family="'Liberation Sans', Arial, sans-serif" fill="#222">0.0</text>
<line x1="431.50" y1="248.30" x2="431.50" y2="250.30" stroke="#000" stroke-width="0.8"/>
<line x1="473.50" y1="248.30" x2="473.50" y2="250.30" stroke="#000" stroke-width="0.8"/>
<line x1="423.50" y1="237.50" x2="423.50" y2="240.00" stroke="#000" stroke-width="1.1"/>
<line x1="420.96" y1="237.50" x2="425.79" y2="237.50" stroke="#000" stroke-width="1.1"/>
<rect x="418.50" y="240.50" width="10.00" height="8.00" fill="#000" stroke="#000" stroke-width="1.1"/>
<line x1="438.50" y1="243.25" x2="438.50" y2="244.50" stroke="#000" stroke-width="1.1"/>
<line x1="436.34" y1="243.50" x2="441.41" y2="243.50" stroke="#000" stroke-width="1.1"/>
<rect x="433.50" y="244.50" width="11.00" height="4.00" fill="#fff" stroke="#000" stroke-width="1.1"/>
<line x1="465.50" y1="205.75" x2="465.50" y2="212.50" stroke="#000" stroke-width="1.1"/>
<line x1="462.52" y1="205.50" x2="467.48" y2="205.50" stroke="#000" stroke-width="1.1"/>
<rect x="459.50" y="212.50" width="11.00" height="36.00" fill="#000" stroke="#000" stroke-width="1.1"/>
<line x1="480.50" y1="227.50" x2="480.50" y2="231.25" stroke="#000" stroke-width="1.1"/>
<line x1="478.09" y1="227.50" x2="483.16" y2="227.50" stroke="#000" stroke-width="1.1"/>
<rect x="475.50" y="231.50" width="11.00" height="17.00" fill="#fff" stroke="#000" stroke-width="1.1"/>
<line x1="417.50" y1="203.50" x2="464.50" y2="203.50" stroke="#000" stroke-width="1.1"/>
<text x="441.25" y="203.25" font-size="5" font-weight="normal" font-style="normal" text-anchor="middle" font-family="'Liberation Sans', Arial, sans-serif" fill="#000" textLength="8.40" lengthAdjust="spacingAndGlyphs">****</text>
<line x1="433.00" y1="195.50" x2="482.50" y2="195.50" stroke="#000" stroke-width="1.1"/>
<text x="456.60" y="194.00" font-size="5" font-weight="normal" font-style="normal" text-anchor="middle" font-family="'Liberation Sans', Arial, sans-serif" fill="#000" textLength="8.40" lengthAdjust="spacingAndGlyphs">****</text>
<line x1="466.25" y1="203.50" x2="482.50" y2="203.50" stroke="#000" stroke-width="1.1"/>
<text x="474.40" y="202.25" font-size="5" font-weight="normal" font-style="normal" text-anchor="middle" font-family="'Liberation Sans', Arial, sans-serif" fill="#000" textLength="6.30" lengthAdjust="spacingAndGlyphs">***</text>
<text x="426.25" y="259.50" font-size="7" font-weight="bold" font-style="normal" text-anchor="start" font-family="'Liberation Sans', Arial, sans-serif" fill="#000" textLength="8.25" lengthAdjust="spacingAndGlyphs">LB</text>
<text x="447.50" y="259.50" font-size="7" font-weight="bold" font-style="italic" text-anchor="start" font-family="'Liberation Sans', Arial, sans-serif" fill="#000" textLength="50.00" lengthAdjust="spacingAndGlyphs">S. typhimurium</text>
<text stroke="#000" stroke-width="0.21" transform="translate(390.40,246.60) rotate(-90)" x="0" y="0" font-size="7" font-weight="bold" font-style="normal" font-family="'Liberation Sans', Arial, sans-serif" fill="#000" textLength="54.10" lengthAdjust="spacingAndGlyphs">Total numbers of</text>
<text stroke="#000" stroke-width="0.21" transform="translate(399.50,256.00) rotate(-90)" x="0" y="0" font-size="7" font-weight="bold" font-style="normal" font-family="'Liberation Sans', Arial, sans-serif" fill="#000" textLength="70.50" lengthAdjust="spacingAndGlyphs">macrophages (10<tspan font-size="4.5" dy="-2.5">6</tspan><tspan dy="2.5">/ml)</tspan></text>
<rect x="231.25" y="273.75" width="8.25" height="5.75" fill="#000" stroke="#000" stroke-width="0.8"/>
<text x="245.75" y="278.75" font-size="9" font-weight="normal" font-style="normal" text-anchor="start" font-family="'Liberation Sans', Arial, sans-serif" fill="#000" textLength="13.00" lengthAdjust="spacingAndGlyphs">WT</text>
<rect x="271.50" y="274.50" width="9.00" height="6.00" fill="#fff" stroke="#000" stroke-width="1"/>
<text x="285.50" y="280.00" font-size="9" font-weight="normal" font-style="italic" text-anchor="start" font-family="'Liberation Sans', Arial, sans-serif" fill="#000" textLength="23.25" lengthAdjust="spacingAndGlyphs">Mcpip</text>
<text x="309.05" y="276.00" font-size="6" font-weight="normal" font-style="normal" text-anchor="start" font-family="'Liberation Sans', Arial, sans-serif" fill="#000" textLength="18.95" lengthAdjust="spacingAndGlyphs">Mye-tg</text>
<text x="63.75" y="306.25" font-size="10.5" font-weight="bold" font-style="normal" text-anchor="start" font-family="'Liberation Sans', Arial, sans-serif" fill="#000" textLength="87.00" lengthAdjust="spacingAndGlyphs" stroke="#000" stroke-width="0.32">Peripharal blood</text>
<text x="221.25" y="306.25" font-size="10.5" font-weight="bold" font-style="normal" text-anchor="start" font-family="'Liberation Sans', Arial, sans-serif" fill="#000" textLength="90.00" lengthAdjust="spacingAndGlyphs" stroke="#000" stroke-width="0.32">Peritoneal lavage</text>
<text x="408.75" y="306.25" font-size="10.5" font-weight="bold" font-style="normal" text-anchor="start" font-family="'Liberation Sans', Arial, sans-serif" fill="#000" textLength="25.75" lengthAdjust="spacingAndGlyphs" stroke="#000" stroke-width="0.32">Liver</text>
<text x="24.00" y="412.20" font-size="8.5" font-weight="bold" font-style="normal" text-anchor="start" font-family="'Liberation Sans', Arial, sans-serif" fill="#000" stroke="#000" stroke-width="0.26">c</text>
<line x1="47.50" y1="315.75" x2="47.50" y2="398.50" stroke="#000" stroke-width="1.2"/>
<line x1="47.00" y1="398.50" x2="165.00" y2="398.50" stroke="#000" stroke-width="1.2"/>
<line x1="44.00" y1="315.50" x2="47.50" y2="315.50" stroke="#000" stroke-width="0.8"/>
<text x="42.20" y="317.73" font-size="5.5" font-weight="normal" font-style="normal" text-anchor="end" font-family="'Liberation Sans', Arial, sans-serif" fill="#222">5</text>
<line x1="44.00" y1="332.50" x2="47.50" y2="332.50" stroke="#000" stroke-width="0.8"/>
<text x="42.20" y="334.48" font-size="5.5" font-weight="normal" font-style="normal" text-anchor="end" font-family="'Liberation Sans', Arial, sans-serif" fill="#222">4</text>
<line x1="44.00" y1="349.50" x2="47.50" y2="349.50" stroke="#000" stroke-width="0.8"/>
<text x="42.20" y="351.23" font-size="5.5" font-weight="normal" font-style="normal" text-anchor="end" font-family="'Liberation Sans', Arial, sans-serif" fill="#222">3</text>
<line x1="44.00" y1="365.50" x2="47.50" y2="365.50" stroke="#000" stroke-width="0.8"/>
<text x="42.20" y="367.48" font-size="5.5" font-weight="normal" font-style="normal" text-anchor="end" font-family="'Liberation Sans', Arial, sans-serif" fill="#222">2</text>
<line x1="44.00" y1="381.50" x2="47.50" y2="381.50" stroke="#000" stroke-width="0.8"/>
<text x="42.20" y="383.73" font-size="5.5" font-weight="normal" font-style="normal" text-anchor="end" font-family="'Liberation Sans', Arial, sans-serif" fill="#222">1</text>
<line x1="44.00" y1="398.50" x2="47.50" y2="398.50" stroke="#000" stroke-width="0.8"/>
<text x="42.20" y="399.98" font-size="5.5" font-weight="normal" font-style="normal" text-anchor="end" font-family="'Liberation Sans', Arial, sans-serif" fill="#222">0</text>
<line x1="76.25" y1="325.50" x2="136.25" y2="325.50" stroke="#000" stroke-width="1.3"/>
<text x="105.60" y="323.80" font-size="6" font-weight="normal" font-style="normal" text-anchor="middle" font-family="'Liberation Sans', Arial, sans-serif" fill="#000" textLength="7.56" lengthAdjust="spacingAndGlyphs">***</text>
<line x1="77.50" y1="365.00" x2="77.50" y2="370.50" stroke="#000" stroke-width="1.2"/>
<line x1="67.00" y1="365.50" x2="86.25" y2="365.50" stroke="#000" stroke-width="1.2"/>
<rect x="57.50" y="370.50" width="40.00" height="28.00" fill="#000" stroke="#000" stroke-width="1.2"/>
<line x1="138.50" y1="330.00" x2="138.50" y2="342.50" stroke="#000" stroke-width="1.2"/>
<line x1="128.75" y1="330.50" x2="148.75" y2="330.50" stroke="#000" stroke-width="1.2"/>
<rect x="117.50" y="342.50" width="41.00" height="56.00" fill="#fff" stroke="#000" stroke-width="1.2"/>
<text x="68.75" y="410.50" font-size="10" font-weight="bold" font-style="normal" text-anchor="start" font-family="'Liberation Sans', Arial, sans-serif" fill="#000" textLength="16.25" lengthAdjust="spacingAndGlyphs" stroke="#000" stroke-width="0.30">WT</text>
<text x="111.25" y="409.50" font-size="9.5" font-weight="bold" font-style="italic" text-anchor="start" font-family="'Liberation Sans', Arial, sans-serif" fill="#000" textLength="28.75" lengthAdjust="spacingAndGlyphs" stroke="#000" stroke-width="0.28">Mcpip</text>
<text x="140.50" y="405.30" font-size="7" font-weight="bold" font-style="normal" text-anchor="start" font-family="'Liberation Sans', Arial, sans-serif" fill="#000" textLength="24.50" lengthAdjust="spacingAndGlyphs">Mye-tg</text>
<text stroke="#000" stroke-width="0.28" transform="translate(32.80,390.30) rotate(-90)" x="0" y="0" font-size="9.5" font-weight="bold" font-style="normal" font-family="'Liberation Sans', Arial, sans-serif" fill="#000" textLength="67.00" lengthAdjust="spacingAndGlyphs">CFU/mL (Log)</text>
<line x1="205.50" y1="315.75" x2="205.50" y2="398.50" stroke="#000" stroke-width="1.2"/>
<line x1="204.50" y1="398.50" x2="325.00" y2="398.50" stroke="#000" stroke-width="1.2"/>
<line x1="201.50" y1="315.50" x2="205.00" y2="315.50" stroke="#000" stroke-width="0.8"/>
<text x="199.70" y="317.73" font-size="5.5" font-weight="normal" font-style="normal" text-anchor="end" font-family="'Liberation Sans', Arial, sans-serif" fill="#222">5</text>
<line x1="201.50" y1="332.50" x2="205.00" y2="332.50" stroke="#000" stroke-width="0.8"/>
<text x="199.70" y="334.48" font-size="5.5" font-weight="normal" font-style="normal" text-anchor="end" font-family="'Liberation Sans', Arial, sans-serif" fill="#222">4</text>
<line x1="201.50" y1="349.50" x2="205.00" y2="349.50" stroke="#000" stroke-width="0.8"/>
<text x="199.70" y="351.23" font-size="5.5" font-weight="normal" font-style="normal" text-anchor="end" font-family="'Liberation Sans', Arial, sans-serif" fill="#222">3</text>
<line x1="201.50" y1="365.50" x2="205.00" y2="365.50" stroke="#000" stroke-width="0.8"/>
<text x="199.70" y="367.48" font-size="5.5" font-weight="normal" font-style="normal" text-anchor="end" font-family="'Liberation Sans', Arial, sans-serif" fill="#222">2</text>
<line x1="201.50" y1="381.50" x2="205.00" y2="381.50" stroke="#000" stroke-width="0.8"/>
<text x="199.70" y="383.73" font-size="5.5" font-weight="normal" font-style="normal" text-anchor="end" font-family="'Liberation Sans', Arial, sans-serif" fill="#222">1</text>
<line x1="201.50" y1="398.50" x2="205.00" y2="398.50" stroke="#000" stroke-width="0.8"/>
<text x="199.70" y="399.98" font-size="5.5" font-weight="normal" font-style="normal" text-anchor="end" font-family="'Liberation Sans', Arial, sans-serif" fill="#222">0</text>
<line x1="235.00" y1="328.50" x2="294.50" y2="328.50" stroke="#000" stroke-width="1.3"/>
<text x="264.00" y="326.55" font-size="6" font-weight="normal" font-style="normal" text-anchor="middle" font-family="'Liberation Sans', Arial, sans-serif" fill="#000" textLength="7.56" lengthAdjust="spacingAndGlyphs">***</text>
<line x1="236.50" y1="350.00" x2="236.50" y2="357.50" stroke="#000" stroke-width="1.2"/>
<line x1="227.50" y1="350.50" x2="246.25" y2="350.50" stroke="#000" stroke-width="1.2"/>
<rect x="216.50" y="357.50" width="40.00" height="41.00" fill="#000" stroke="#000" stroke-width="1.2"/>
<line x1="297.50" y1="333.00" x2="297.50" y2="337.50" stroke="#000" stroke-width="1.2"/>
<line x1="287.00" y1="333.50" x2="307.00" y2="333.50" stroke="#000" stroke-width="1.2"/>
<rect x="277.50" y="337.50" width="40.00" height="61.00" fill="#fff" stroke="#000" stroke-width="1.2"/>
<text x="227.50" y="410.50" font-size="10" font-weight="bold" font-style="normal" text-anchor="start" font-family="'Liberation Sans', Arial, sans-serif" fill="#000" textLength="16.25" lengthAdjust="spacingAndGlyphs" stroke="#000" stroke-width="0.30">WT</text>
<text x="270.50" y="409.50" font-size="9.5" font-weight="bold" font-style="italic" text-anchor="start" font-family="'Liberation Sans', Arial, sans-serif" fill="#000" textLength="28.50" lengthAdjust="spacingAndGlyphs" stroke="#000" stroke-width="0.28">Mcpip</text>
<text x="299.50" y="405.30" font-size="7" font-weight="bold" font-style="normal" text-anchor="start" font-family="'Liberation Sans', Arial, sans-serif" fill="#000" textLength="24.25" lengthAdjust="spacingAndGlyphs">Mye-tg</text>
<text stroke="#000" stroke-width="0.28" transform="translate(191.00,389.80) rotate(-90)" x="0" y="0" font-size="9.5" font-weight="bold" font-style="normal" font-family="'Liberation Sans', Arial, sans-serif" fill="#000" textLength="66.50" lengthAdjust="spacingAndGlyphs">CFU/mL (Log)</text>
<line x1="361.50" y1="315.75" x2="361.50" y2="398.50" stroke="#000" stroke-width="1.2"/>
<line x1="360.50" y1="398.50" x2="483.75" y2="398.50" stroke="#000" stroke-width="1.2"/>
<line x1="357.50" y1="315.50" x2="361.00" y2="315.50" stroke="#000" stroke-width="0.8"/>
<text x="355.70" y="317.73" font-size="5.5" font-weight="normal" font-style="normal" text-anchor="end" font-family="'Liberation Sans', Arial, sans-serif" fill="#222">5</text>
<line x1="357.50" y1="332.50" x2="361.00" y2="332.50" stroke="#000" stroke-width="0.8"/>
<text x="355.70" y="334.48" font-size="5.5" font-weight="normal" font-style="normal" text-anchor="end" font-family="'Liberation Sans', Arial, sans-serif" fill="#222">4</text>
<line x1="357.50" y1="349.50" x2="361.00" y2="349.50" stroke="#000" stroke-width="0.8"/>
<text x="355.70" y="351.23" font-size="5.5" font-weight="normal" font-style="normal" text-anchor="end" font-family="'Liberation Sans', Arial, sans-serif" fill="#222">3</text>
<line x1="357.50" y1="365.50" x2="361.00" y2="365.50" stroke="#000" stroke-width="0.8"/>
<text x="355.70" y="367.48" font-size="5.5" font-weight="normal" font-style="normal" text-anchor="end" font-family="'Liberation Sans', Arial, sans-serif" fill="#222">2</text>
<line x1="357.50" y1="381.50" x2="361.00" y2="381.50" stroke="#000" stroke-width="0.8"/>
<text x="355.70" y="383.73" font-size="5.5" font-weight="normal" font-style="normal" text-anchor="end" font-family="'Liberation Sans', Arial, sans-serif" fill="#222">1</text>
<line x1="357.50" y1="398.50" x2="361.00" y2="398.50" stroke="#000" stroke-width="0.8"/>
<text x="355.70" y="399.98" font-size="5.5" font-weight="normal" font-style="normal" text-anchor="end" font-family="'Liberation Sans', Arial, sans-serif" fill="#222">0</text>
<line x1="390.00" y1="322.50" x2="450.50" y2="322.50" stroke="#000" stroke-width="1.3"/>
<text x="417.50" y="320.80" font-size="6" font-weight="normal" font-style="normal" text-anchor="middle" font-family="'Liberation Sans', Arial, sans-serif" fill="#000" textLength="5.04" lengthAdjust="spacingAndGlyphs">**</text>
<line x1="391.50" y1="341.25" x2="391.50" y2="350.00" stroke="#000" stroke-width="1.2"/>
<line x1="382.00" y1="341.50" x2="402.00" y2="341.50" stroke="#000" stroke-width="1.2"/>
<rect x="371.50" y="350.50" width="40.00" height="48.00" fill="#000" stroke="#000" stroke-width="1.2"/>
<line x1="452.50" y1="328.00" x2="452.50" y2="333.75" stroke="#000" stroke-width="1.2"/>
<line x1="443.75" y1="328.50" x2="463.00" y2="328.50" stroke="#000" stroke-width="1.2"/>
<rect x="432.50" y="333.50" width="40.00" height="65.00" fill="#fff" stroke="#000" stroke-width="1.2"/>
<text x="383.75" y="410.00" font-size="10" font-weight="bold" font-style="normal" text-anchor="start" font-family="'Liberation Sans', Arial, sans-serif" fill="#000" textLength="15.00" lengthAdjust="spacingAndGlyphs" stroke="#000" stroke-width="0.30">WT</text>
<text x="425.00" y="409.50" font-size="9.5" font-weight="bold" font-style="italic" text-anchor="start" font-family="'Liberation Sans', Arial, sans-serif" fill="#000" textLength="28.75" lengthAdjust="spacingAndGlyphs" stroke="#000" stroke-width="0.28">Mcpip</text>
<text x="454.25" y="405.30" font-size="7" font-weight="bold" font-style="normal" text-anchor="start" font-family="'Liberation Sans', Arial, sans-serif" fill="#000" textLength="24.50" lengthAdjust="spacingAndGlyphs">Myc-tg</text>
<text stroke="#000" stroke-width="0.28" transform="translate(346.80,384.80) rotate(-90)" x="0" y="0" font-size="9.5" font-weight="bold" font-style="normal" font-family="'Liberation Sans', Arial, sans-serif" fill="#000" textLength="57.50" lengthAdjust="spacingAndGlyphs">CFU/g (Log)</text>
<rect x="218.75" y="420.00" width="9.25" height="5.00" fill="#000" stroke="#000" stroke-width="0.8"/>
<text x="233.75" y="425.00" font-size="8.5" font-weight="normal" font-style="normal" text-anchor="start" font-family="'Liberation Sans', Arial, sans-serif" fill="#000" textLength="12.50" lengthAdjust="spacingAndGlyphs">WT</text>
<rect x="258.50" y="421.50" width="10.00" height="5.00" fill="#fff" stroke="#000" stroke-width="1"/>
<text x="273.75" y="427.00" font-size="8.5" font-weight="normal" font-style="italic" text-anchor="start" font-family="'Liberation Sans', Arial, sans-serif" fill="#000" textLength="22.50" lengthAdjust="spacingAndGlyphs">Mcpip</text>
<text x="296.55" y="422.00" font-size="5.5" font-weight="normal" font-style="normal" text-anchor="start" font-family="'Liberation Sans', Arial, sans-serif" fill="#000" textLength="19.70" lengthAdjust="spacingAndGlyphs">Mye-tg</text>
<line x1="39.50" y1="454.50" x2="39.50" y2="513.50" stroke="#000" stroke-width="1.2"/>
<line x1="38.75" y1="513.50" x2="122.00" y2="513.50" stroke="#000" stroke-width="1.2"/>
<line x1="37.05" y1="454.50" x2="39.25" y2="454.50" stroke="#000" stroke-width="0.8"/>
<text x="36.75" y="456.01" font-size="4.2" font-weight="normal" font-style="normal" text-anchor="end" font-family="'Liberation Sans', Arial, sans-serif" fill="#222">150</text>
<line x1="37.05" y1="474.50" x2="39.25" y2="474.50" stroke="#000" stroke-width="0.8"/>
<text x="36.75" y="475.76" font-size="4.2" font-weight="normal" font-style="normal" text-anchor="end" font-family="'Liberation Sans', Arial, sans-serif" fill="#222">100</text>
<line x1="37.05" y1="493.50" x2="39.25" y2="493.50" stroke="#000" stroke-width="0.8"/>
<text x="36.75" y="495.26" font-size="4.2" font-weight="normal" font-style="normal" text-anchor="end" font-family="'Liberation Sans', Arial, sans-serif" fill="#222">50</text>
<line x1="37.05" y1="513.50" x2="39.25" y2="513.50" stroke="#000" stroke-width="0.8"/>
<text x="36.75" y="514.51" font-size="4.2" font-weight="normal" font-style="normal" text-anchor="end" font-family="'Liberation Sans', Arial, sans-serif" fill="#222">0</text>
<line x1="61.50" y1="513.00" x2="61.50" y2="515.00" stroke="#000" stroke-width="0.8"/>
<line x1="105.50" y1="513.00" x2="105.50" y2="515.00" stroke="#000" stroke-width="0.8"/>
<line x1="53.50" y1="497.00" x2="53.50" y2="498.00" stroke="#000" stroke-width="1.1"/>
<line x1="50.59" y1="497.50" x2="55.66" y2="497.50" stroke="#000" stroke-width="1.1"/>
<rect x="47.50" y="498.50" width="11.00" height="15.00" fill="#000" stroke="#000" stroke-width="1.1"/>
<line x1="69.50" y1="497.00" x2="69.50" y2="498.00" stroke="#000" stroke-width="1.1"/>
<line x1="67.21" y1="497.50" x2="72.04" y2="497.50" stroke="#000" stroke-width="1.1"/>
<rect x="64.50" y="498.50" width="11.00" height="15.00" fill="#fff" stroke="#000" stroke-width="1.1"/>
<line x1="97.50" y1="473.75" x2="97.50" y2="475.50" stroke="#000" stroke-width="1.1"/>
<line x1="94.89" y1="473.50" x2="99.61" y2="473.50" stroke="#000" stroke-width="1.1"/>
<rect x="92.50" y="475.50" width="10.00" height="38.00" fill="#000" stroke="#000" stroke-width="1.1"/>
<line x1="113.50" y1="466.75" x2="113.50" y2="469.25" stroke="#000" stroke-width="1.1"/>
<line x1="111.21" y1="466.50" x2="116.04" y2="466.50" stroke="#000" stroke-width="1.1"/>
<rect x="108.50" y="469.50" width="11.00" height="44.00" fill="#fff" stroke="#000" stroke-width="1.1"/>
<line x1="48.00" y1="470.50" x2="97.50" y2="470.50" stroke="#000" stroke-width="1.1"/>
<text x="70.25" y="467.80" font-size="6" font-weight="normal" font-style="normal" text-anchor="middle" font-family="'Liberation Sans', Arial, sans-serif" fill="#000" textLength="10.08" lengthAdjust="spacingAndGlyphs">****</text>
<line x1="65.50" y1="457.50" x2="115.00" y2="457.50" stroke="#000" stroke-width="1.1"/>
<text x="89.40" y="455.80" font-size="6" font-weight="normal" font-style="normal" text-anchor="middle" font-family="'Liberation Sans', Arial, sans-serif" fill="#000" textLength="10.08" lengthAdjust="spacingAndGlyphs">****</text>
<line x1="96.25" y1="464.50" x2="113.75" y2="464.50" stroke="#000" stroke-width="1.1"/>
<text x="105.00" y="464.55" font-size="6" font-weight="normal" font-style="normal" text-anchor="middle" font-family="'Liberation Sans', Arial, sans-serif" fill="#000" textLength="5.04" lengthAdjust="spacingAndGlyphs">**</text>
<text x="57.00" y="523.75" font-size="7.5" font-weight="bold" font-style="normal" text-anchor="start" font-family="'Liberation Sans', Arial, sans-serif" fill="#000" textLength="8.50" lengthAdjust="spacingAndGlyphs">LB</text>
<text x="79.50" y="523.75" font-size="7.5" font-weight="bold" font-style="italic" text-anchor="start" font-family="'Liberation Sans', Arial, sans-serif" fill="#000" textLength="51.50" lengthAdjust="spacingAndGlyphs">S. typhimurium</text>
<text stroke="#000" stroke-width="0.24" transform="translate(28.60,500.30) rotate(-90)" x="0" y="0" font-size="8" font-weight="bold" font-style="normal" font-family="'Liberation Sans', Arial, sans-serif" fill="#000" textLength="36.80" lengthAdjust="spacingAndGlyphs">ALT (U/L)</text>
<line x1="39.50" y1="538.90" x2="39.50" y2="597.30" stroke="#000" stroke-width="1.2"/>
<line x1="38.50" y1="596.50" x2="121.00" y2="596.50" stroke="#000" stroke-width="1.2"/>
<line x1="36.80" y1="538.50" x2="39.00" y2="538.50" stroke="#000" stroke-width="0.8"/>
<text x="36.50" y="540.41" font-size="4.2" font-weight="normal" font-style="normal" text-anchor="end" font-family="'Liberation Sans', Arial, sans-serif" fill="#222">200</text>
<line x1="36.80" y1="553.50" x2="39.00" y2="553.50" stroke="#000" stroke-width="0.8"/>
<text x="36.50" y="555.21" font-size="4.2" font-weight="normal" font-style="normal" text-anchor="end" font-family="'Liberation Sans', Arial, sans-serif" fill="#222">150</text>
<line x1="36.80" y1="567.50" x2="39.00" y2="567.50" stroke="#000" stroke-width="0.8"/>
<text x="36.50" y="569.21" font-size="4.2" font-weight="normal" font-style="normal" text-anchor="end" font-family="'Liberation Sans', Arial, sans-serif" fill="#222">100</text>
<line x1="36.80" y1="582.50" x2="39.00" y2="582.50" stroke="#000" stroke-width="0.8"/>
<text x="36.50" y="584.01" font-size="4.2" font-weight="normal" font-style="normal" text-anchor="end" font-family="'Liberation Sans', Arial, sans-serif" fill="#222">50</text>
<line x1="36.80" y1="596.50" x2="39.00" y2="596.50" stroke="#000" stroke-width="0.8"/>
<text x="36.50" y="598.31" font-size="4.2" font-weight="normal" font-style="normal" text-anchor="end" font-family="'Liberation Sans', Arial, sans-serif" fill="#222">0</text>
<line x1="61.50" y1="596.80" x2="61.50" y2="598.80" stroke="#000" stroke-width="0.8"/>
<line x1="105.50" y1="596.80" x2="105.50" y2="598.80" stroke="#000" stroke-width="0.8"/>
<line x1="53.50" y1="581.00" x2="53.50" y2="581.70" stroke="#000" stroke-width="1.1"/>
<line x1="51.01" y1="581.50" x2="56.09" y2="581.50" stroke="#000" stroke-width="1.1"/>
<rect x="47.50" y="581.50" width="12.00" height="15.00" fill="#000" stroke="#000" stroke-width="1.1"/>
<line x1="70.50" y1="581.00" x2="70.50" y2="581.70" stroke="#000" stroke-width="1.1"/>
<line x1="67.34" y1="581.50" x2="72.66" y2="581.50" stroke="#000" stroke-width="1.1"/>
<rect x="64.50" y="581.50" width="11.00" height="15.00" fill="#fff" stroke="#000" stroke-width="1.1"/>
<line x1="97.50" y1="555.00" x2="97.50" y2="556.90" stroke="#000" stroke-width="1.1"/>
<line x1="95.00" y1="555.50" x2="99.90" y2="555.50" stroke="#000" stroke-width="1.1"/>
<rect x="92.50" y="556.50" width="10.00" height="40.00" fill="#000" stroke="#000" stroke-width="1.1"/>
<line x1="113.50" y1="550.20" x2="113.50" y2="552.90" stroke="#000" stroke-width="1.1"/>
<line x1="111.03" y1="550.50" x2="116.47" y2="550.50" stroke="#000" stroke-width="1.1"/>
<rect x="107.50" y="552.50" width="12.00" height="44.00" fill="#fff" stroke="#000" stroke-width="1.1"/>
<line x1="48.50" y1="551.50" x2="97.50" y2="551.50" stroke="#000" stroke-width="1.1"/>
<text x="73.30" y="551.60" font-size="6" font-weight="normal" font-style="normal" text-anchor="middle" font-family="'Liberation Sans', Arial, sans-serif" fill="#000" textLength="10.08" lengthAdjust="spacingAndGlyphs">****</text>
<line x1="66.80" y1="538.50" x2="115.80" y2="538.50" stroke="#000" stroke-width="1.1"/>
<text x="89.50" y="537.30" font-size="6" font-weight="normal" font-style="normal" text-anchor="middle" font-family="'Liberation Sans', Arial, sans-serif" fill="#000" textLength="10.08" lengthAdjust="spacingAndGlyphs">****</text>
<line x1="95.60" y1="546.50" x2="115.20" y2="546.50" stroke="#000" stroke-width="1.1"/>
<text x="103.50" y="545.40" font-size="6" font-weight="normal" font-style="normal" text-anchor="middle" font-family="'Liberation Sans', Arial, sans-serif" fill="#000" textLength="2.52" lengthAdjust="spacingAndGlyphs">*</text>
<text x="56.50" y="608.00" font-size="7.5" font-weight="bold" font-style="normal" text-anchor="start" font-family="'Liberation Sans', Arial, sans-serif" fill="#000" textLength="8.70" lengthAdjust="spacingAndGlyphs">LB</text>
<text x="80.20" y="608.00" font-size="7.5" font-weight="bold" font-style="italic" text-anchor="start" font-family="'Liberation Sans', Arial, sans-serif" fill="#000" textLength="51.80" lengthAdjust="spacingAndGlyphs">S. typhimurium</text>
<text stroke="#000" stroke-width="0.23" transform="translate(28.60,584.00) rotate(-90)" x="0" y="0" font-size="7.6" font-weight="bold" font-style="normal" font-family="'Liberation Sans', Arial, sans-serif" fill="#000" textLength="30.50" lengthAdjust="spacingAndGlyphs">AST (U/L)</text>
<text x="22.20" y="626.40" font-size="8.5" font-weight="bold" font-style="normal" text-anchor="start" font-family="'Liberation Sans', Arial, sans-serif" fill="#000" stroke="#000" stroke-width="0.26">d</text>
<rect x="37.70" y="621.00" width="5.90" height="4.60" fill="#000" stroke="#000" stroke-width="0.8"/>
<text x="48.50" y="625.60" font-size="7" font-weight="normal" font-style="normal" text-anchor="start" font-family="'Liberation Sans', Arial, sans-serif" fill="#000" textLength="10.20" lengthAdjust="spacingAndGlyphs">WT</text>
<rect x="69.50" y="621.50" width="7.00" height="4.00" fill="#fff" stroke="#000" stroke-width="1"/>
<text x="80.20" y="626.60" font-size="7" font-weight="normal" font-style="italic" text-anchor="start" font-family="'Liberation Sans', Arial, sans-serif" fill="#000" textLength="18.10" lengthAdjust="spacingAndGlyphs">Mcpip</text>
<text x="98.60" y="623.70" font-size="4.5" font-weight="normal" font-style="normal" text-anchor="start" font-family="'Liberation Sans', Arial, sans-serif" fill="#000" textLength="15.80" lengthAdjust="spacingAndGlyphs">Mye-tg</text>
<text x="196.50" y="455.00" font-size="9.5" font-weight="bold" font-style="normal" text-anchor="start" font-family="'Liberation Serif', 'Times New Roman', serif" fill="#000" textLength="13.20" lengthAdjust="spacingAndGlyphs" stroke="#000" stroke-width="0.28">LB</text>
<text x="290.30" y="455.00" font-size="9.6" font-weight="bold" font-style="italic" text-anchor="start" font-family="'Liberation Serif', 'Times New Roman', serif" fill="#000" textLength="64.80" lengthAdjust="spacingAndGlyphs" stroke="#000" stroke-width="0.29">S. typhimurium</text>
<text stroke="#000" stroke-width="0.28" transform="translate(152.60,508.50) rotate(-90)" x="0" y="0" font-size="9.5" font-weight="bold" font-style="normal" font-family="'Liberation Serif', 'Times New Roman', serif" fill="#000" textLength="17.00" lengthAdjust="spacingAndGlyphs">WT</text>
<text stroke="#000" stroke-width="0.26" transform="translate(154.30,608.75) rotate(-90)" x="0" y="0" font-size="8.8" font-weight="bold" font-style="italic" font-family="'Liberation Serif', 'Times New Roman', serif" fill="#000" textLength="48.75" lengthAdjust="spacingAndGlyphs">Mcpip<tspan font-size="5.8" dy="-4">Mye-tg</tspan></text>
<text x="146.30" y="623.50" font-size="9" font-weight="bold" font-style="normal" text-anchor="start" font-family="'Liberation Sans', Arial, sans-serif" fill="#000" stroke="#000" stroke-width="0.27">e</text>
<defs>
<filter id="tx" x="0" y="0" width="100%" height="100%" color-interpolation-filters="sRGB">
<feTurbulence type="fractalNoise" baseFrequency="0.55" numOctaves="2" seed="7" result="n"/>
<feColorMatrix in="n" type="matrix" values="0 0 0 0 0.36  0 0 0 0 0.33  0 0 0 0 0.42  3.2 0 0 0 -1.45" result="dk"/>
<feColorMatrix in="n" type="matrix" values="0 0 0 0 0.80  0 0 0 0 0.79  0 0 0 0 0.83  0 3.2 0 0 -1.45" result="lt"/>
<feMerge><feMergeNode in="dk"/><feMergeNode in="lt"/></feMerge>
</filter>
<filter id="tx2" x="0" y="0" width="100%" height="100%" color-interpolation-filters="sRGB">
<feTurbulence type="fractalNoise" baseFrequency="0.07" numOctaves="2" seed="11" result="n"/>
<feColorMatrix in="n" type="matrix" values="0 0 0 0 0.55  0 0 0 0 0.68  0 0 0 0 0.56  2.2 0 0 0 -1.0" result="gr"/>
<feColorMatrix in="n" type="matrix" values="0 0 0 0 0.62  0 0 0 0 0.52  0 0 0 0 0.66  0 2.2 0 0 -1.0" result="pk"/>
<feMerge><feMergeNode in="gr"/><feMergeNode in="pk"/></feMerge>
</filter>
<filter id="bl" x="-50%" y="-50%" width="200%" height="200%"><feGaussianBlur stdDeviation="1.2"/></filter>
<filter id="bl2" x="-50%" y="-50%" width="200%" height="200%"><feGaussianBlur stdDeviation="2.2"/></filter>
<filter id="bl3" x="-50%" y="-50%" width="200%" height="200%"><feGaussianBlur stdDeviation="0.6"/></filter>
<clipPath id="c1"><rect x="159.5" y="458.75" width="105.5" height="78.75"/></clipPath>
<clipPath id="c2"><rect x="272" y="458.75" width="105" height="78.75"/></clipPath>
<clipPath id="c3"><rect x="159.5" y="543.75" width="105.5" height="79.25"/></clipPath>
<clipPath id="c4"><rect x="272" y="543.75" width="105" height="79.25"/></clipPath>
</defs>
<rect x="159.5" y="458.75" width="105.5" height="78.75" fill="#9c9aa8"/>
<rect x="159.5" y="458.75" width="105.5" height="78.75" filter="url(#tx2)" opacity="0.5"/>
<rect x="272" y="458.75" width="105" height="78.75" fill="#8b8b9d"/>
<rect x="272" y="458.75" width="105" height="78.75" filter="url(#tx2)" opacity="0.15"/>
<rect x="159.5" y="543.75" width="105.5" height="79.25" fill="#929096"/>
<rect x="159.5" y="543.75" width="105.5" height="79.25" filter="url(#tx2)" opacity="0.15"/>
<rect x="272" y="543.75" width="105" height="79.25" fill="#918d9f"/>
<rect x="272" y="543.75" width="105" height="79.25" filter="url(#tx2)" opacity="0.3"/>
<g clip-path="url(#c1)"><g filter="url(#bl3)" fill="#a2cca6" opacity="0.9"><ellipse cx="171.3" cy="495.8" rx="3.6" ry="4.2"/><path d="M173.2 511 Q175 518 178 526 Q177 531.5 172 532 Q168 531 168.5 526 Q171 518 173.2 511 Z"/><path d="M246.5 507 Q248 503 252 503.5 Q256 504.5 256 509 Q258 513 259.5 517 L260 521 Q255 518 252 514 Q247 512 246.5 507 Z"/><ellipse cx="215.8" cy="470.5" rx="2.2" ry="2.2" opacity="0.6"/><path d="M163 537 L170 527 L172 530 L167 537.5 Z" opacity="0.35"/></g><rect x="159.5" y="458.75" width="16" height="16" fill="#9cc4a4" opacity="0.22" filter="url(#bl2)"/></g>
<g clip-path="url(#c2)"><g filter="url(#bl3)" fill="#a2cca6" opacity="0.85"><path d="M336 540 Q340 531 346 528 Q352 525.5 357 527 Q362 530 364 540 Z"/><ellipse cx="312.5" cy="489" rx="4.5" ry="4" opacity="0.45"/><circle cx="279.5" cy="506" r="0.9" fill="#333"/></g></g>
<g clip-path="url(#c3)"><g filter="url(#bl3)" fill="#a2cca6" opacity="0.85"><ellipse cx="198" cy="584" rx="2.8" ry="5.5"/><path d="M199 589 L201 597 Q202 606 198 612 Q194 617 190 616 Q189 610 193 604 Q197 598 199 589 Z"/><ellipse cx="243.8" cy="603.8" rx="1.8" ry="4" opacity="0.6"/></g></g>
<g clip-path="url(#c4)"><g filter="url(#bl3)" fill="#9ec4a2" opacity="0.75"><path d="M270 578 L283 579 Q288 588 287 597 Q294 601 296 608 Q297 615 290 619 L282 621.5 L270 620 Z"/></g><path d="M270 553 L282 553 Q284 565 285 578 L270 578 Z" fill="#a2b8a4" opacity="0.5" filter="url(#bl2)"/></g>
<rect x="159.5" y="458.75" width="105.5" height="78.75" filter="url(#tx)" opacity="0.6"/>
<rect x="272" y="458.75" width="105" height="78.75" filter="url(#tx)" opacity="0.38"/>
<rect x="159.5" y="543.75" width="105.5" height="79.25" filter="url(#tx)" opacity="0.3"/>
<rect x="272" y="543.75" width="105" height="79.25" filter="url(#tx)" opacity="0.4"/>
<g clip-path="url(#c1)" filter="url(#bl3)" fill="#a8dcaa" opacity="0.55"><ellipse cx="171.3" cy="495.8" rx="3.2" ry="3.8"/><path d="M173.2 513 Q175 519 177 526 Q176 530.5 172 531 Q169 530 169.5 526 Q171.5 519 173.2 513 Z"/><path d="M247.5 507 Q249 504 252 504.5 Q255.5 505.5 255.5 509 Q257.5 513 259 517 L259.5 520 Q255 517.5 252 514 Q248 512 247.5 507 Z"/></g>
<g clip-path="url(#c3)" filter="url(#bl3)" fill="#a8d8aa" opacity="0.4"><path d="M199.5 592 L201 597 Q202 606 198 612 Q194 616 191 615 Q190 610 193.5 604 Q197.5 598 199.5 592 Z"/></g>
<g clip-path="url(#c4)" filter="url(#bl3)" fill="#a2caa6" opacity="0.2"><path d="M270 578 L284 579 Q288 590 286 598 L293 603 Q296 613 290 618 L282 620.5 L270 618 Z"/></g>
<g clip-path="url(#c2)" filter="url(#bl3)" fill="#a2caa6" opacity="0.35"><path d="M337 540 Q341 532 346 529 Q352 526.5 357 528 Q361 531 363 540 Z"/></g>
<g clip-path="url(#c2)"><path d="M329 508 Q340 505 348 512.5" fill="none" stroke="#b0a888" stroke-width="0.8" opacity="0.6"/><path d="M328 511 Q327 522 334 528" fill="none" stroke="#b0a888" stroke-width="0.8" opacity="0.5"/><g filter="url(#bl3)"><line x1="302.3" y1="518.2" x2="320" y2="514.2" stroke="#e8d440" stroke-width="2.2"/><path d="M324.3 513.2 L318.8 511.2 L319.9 516.8 Z" fill="#e8d440"/></g></g>
<g clip-path="url(#c4)"><ellipse cx="328" cy="584" rx="10.5" ry="14" fill="none" stroke="#b0a888" stroke-width="0.8" opacity="0.5"/><g stroke-width="1.3" opacity="0.25" filter="url(#bl3)"><line x1="288" y1="564.4" x2="312" y2="564.4" stroke="#6060d0"/><line x1="288" y1="575" x2="312" y2="575" stroke="#a060b0"/><line x1="288" y1="579.6" x2="312" y2="579.6" stroke="#6060d0"/><line x1="290" y1="590.5" x2="312" y2="590" stroke="#6060d0"/></g><g filter="url(#bl3)"><line x1="312.5" y1="569.6" x2="291" y2="569.6" stroke="#e8dc40" stroke-width="2.2"/><path d="M287.5 569.6 L292.5 567 L292.5 572.2 Z" fill="#e8dc40"/><line x1="290.5" y1="586.2" x2="310" y2="582.8" stroke="#e8dc40" stroke-width="2.2"/><path d="M313.8 582.1 L309 580 L309.8 585.2 Z" fill="#e8dc40"/></g></g>
<line x1="396.50" y1="504.25" x2="396.50" y2="568.00" stroke="#000" stroke-width="1.2"/>
<line x1="395.75" y1="567.50" x2="483.75" y2="567.50" stroke="#000" stroke-width="1.2"/>
<line x1="394.05" y1="504.50" x2="396.25" y2="504.50" stroke="#000" stroke-width="0.8"/>
<text x="393.25" y="506.12" font-size="5.2" font-weight="normal" font-style="normal" text-anchor="end" font-family="'Liberation Sans', Arial, sans-serif" fill="#222">10</text>
<line x1="394.05" y1="517.50" x2="396.25" y2="517.50" stroke="#000" stroke-width="0.8"/>
<text x="393.25" y="518.87" font-size="5.2" font-weight="normal" font-style="normal" text-anchor="end" font-family="'Liberation Sans', Arial, sans-serif" fill="#222">8</text>
<line x1="394.05" y1="529.50" x2="396.25" y2="529.50" stroke="#000" stroke-width="0.8"/>
<text x="393.25" y="531.37" font-size="5.2" font-weight="normal" font-style="normal" text-anchor="end" font-family="'Liberation Sans', Arial, sans-serif" fill="#222">6</text>
<line x1="394.05" y1="542.50" x2="396.25" y2="542.50" stroke="#000" stroke-width="0.8"/>
<text x="393.25" y="544.37" font-size="5.2" font-weight="normal" font-style="normal" text-anchor="end" font-family="'Liberation Sans', Arial, sans-serif" fill="#222">4</text>
<line x1="394.05" y1="555.50" x2="396.25" y2="555.50" stroke="#000" stroke-width="0.8"/>
<text x="393.25" y="556.87" font-size="5.2" font-weight="normal" font-style="normal" text-anchor="end" font-family="'Liberation Sans', Arial, sans-serif" fill="#222">2</text>
<line x1="394.05" y1="567.50" x2="396.25" y2="567.50" stroke="#000" stroke-width="0.8"/>
<text x="393.25" y="569.37" font-size="5.2" font-weight="normal" font-style="normal" text-anchor="end" font-family="'Liberation Sans', Arial, sans-serif" fill="#222">0</text>
<line x1="420.50" y1="567.50" x2="420.50" y2="569.50" stroke="#000" stroke-width="0.8"/>
<line x1="467.50" y1="567.50" x2="467.50" y2="569.50" stroke="#000" stroke-width="0.8"/>
<line x1="411.50" y1="563.25" x2="411.50" y2="566.25" stroke="#000" stroke-width="1.1"/>
<line x1="408.12" y1="563.50" x2="414.38" y2="563.50" stroke="#000" stroke-width="1.1"/>
<rect x="405.50" y="566.50" width="12.00" height="1.00" fill="#000" stroke="#000" stroke-width="1.1"/>
<line x1="428.50" y1="563.25" x2="428.50" y2="566.25" stroke="#000" stroke-width="1.1"/>
<line x1="425.62" y1="563.50" x2="431.88" y2="563.50" stroke="#000" stroke-width="1.1"/>
<rect x="422.50" y="566.50" width="13.00" height="1.00" fill="#fff" stroke="#000" stroke-width="1.1"/>
<line x1="458.50" y1="534.50" x2="458.50" y2="542.00" stroke="#000" stroke-width="1.1"/>
<line x1="455.12" y1="534.50" x2="461.38" y2="534.50" stroke="#000" stroke-width="1.1"/>
<rect x="452.50" y="542.50" width="12.00" height="25.00" fill="#000" stroke="#000" stroke-width="1.1"/>
<line x1="476.50" y1="513.75" x2="476.50" y2="522.00" stroke="#000" stroke-width="1.1"/>
<line x1="473.50" y1="513.50" x2="479.50" y2="513.50" stroke="#000" stroke-width="1.1"/>
<rect x="470.50" y="522.50" width="12.00" height="45.00" fill="#fff" stroke="#000" stroke-width="1.1"/>
<line x1="405.75" y1="529.50" x2="458.75" y2="529.50" stroke="#000" stroke-width="1.1"/>
<text x="430.40" y="527.25" font-size="5" font-weight="normal" font-style="normal" text-anchor="middle" font-family="'Liberation Sans', Arial, sans-serif" fill="#000" textLength="6.30" lengthAdjust="spacingAndGlyphs">***</text>
<line x1="425.00" y1="505.50" x2="478.00" y2="505.50" stroke="#000" stroke-width="1.1"/>
<text x="448.75" y="503.25" font-size="5" font-weight="normal" font-style="normal" text-anchor="middle" font-family="'Liberation Sans', Arial, sans-serif" fill="#000" textLength="6.30" lengthAdjust="spacingAndGlyphs">***</text>
<line x1="457.00" y1="512.50" x2="478.00" y2="512.50" stroke="#000" stroke-width="1.1"/>
<text x="467.25" y="511.50" font-size="5" font-weight="normal" font-style="normal" text-anchor="middle" font-family="'Liberation Sans', Arial, sans-serif" fill="#000" textLength="4.20" lengthAdjust="spacingAndGlyphs">**</text>
<text x="414.50" y="579.50" font-size="8" font-weight="bold" font-style="normal" text-anchor="start" font-family="'Liberation Sans', Arial, sans-serif" fill="#000" textLength="11.00" lengthAdjust="spacingAndGlyphs" stroke="#000" stroke-width="0.24">LB</text>
<text x="438.00" y="579.50" font-size="8" font-weight="bold" font-style="italic" text-anchor="start" font-family="'Liberation Sans', Arial, sans-serif" fill="#000" textLength="58.25" lengthAdjust="spacingAndGlyphs" stroke="#000" stroke-width="0.24">S. typhimurium</text>
<text stroke="#000" stroke-width="0.24" transform="translate(383.80,569.70) rotate(-90)" x="0" y="0" font-size="8" font-weight="bold" font-style="normal" font-family="'Liberation Sans', Arial, sans-serif" fill="#000" textLength="70.20" lengthAdjust="spacingAndGlyphs">Pathologic Scores</text>
<rect x="407.00" y="593.75" width="9.25" height="5.75" fill="#000" stroke="#000" stroke-width="0.8"/>
<text x="418.75" y="599.50" font-size="7.5" font-weight="normal" font-style="normal" text-anchor="start" font-family="'Liberation Sans', Arial, sans-serif" fill="#000" textLength="9.25" lengthAdjust="spacingAndGlyphs">WT</text>
<rect x="438.50" y="595.50" width="9.00" height="5.00" fill="#fff" stroke="#000" stroke-width="1"/>
<text x="450.00" y="600.50" font-size="7.5" font-weight="normal" font-style="italic" text-anchor="start" font-family="'Liberation Sans', Arial, sans-serif" fill="#000" textLength="17.50" lengthAdjust="spacingAndGlyphs">Mcpip</text>
<text x="467.80" y="596.00" font-size="5" font-weight="normal" font-style="normal" text-anchor="start" font-family="'Liberation Sans', Arial, sans-serif" fill="#000" textLength="15.95" lengthAdjust="spacingAndGlyphs">Mye-tg</text>
</svg>
</body></html>
